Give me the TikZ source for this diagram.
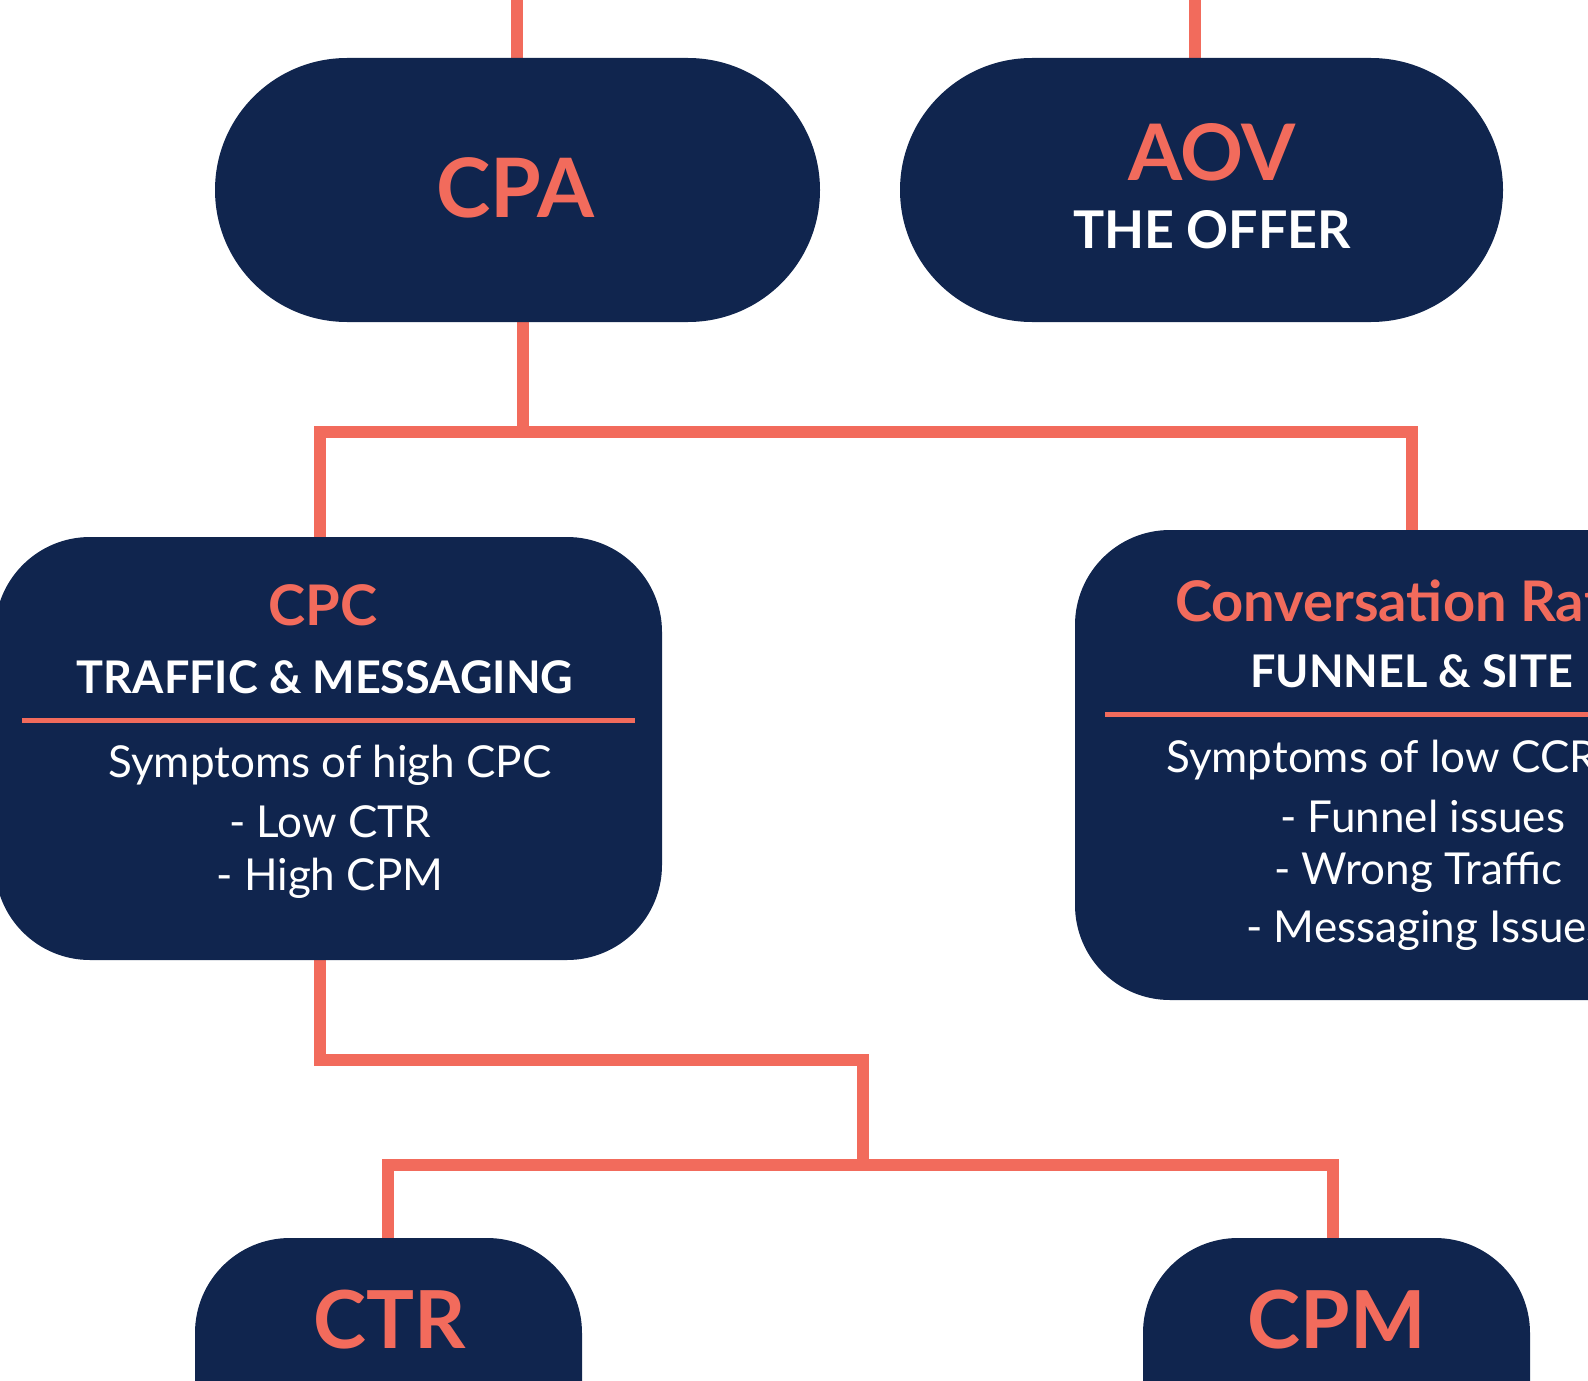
\documentclass[tikz,border=0pt]{standalone}
\usepackage{fontspec}
\setmainfont{Lato}
\definecolor{navy}{HTML}{10254E}
\definecolor{coral}{HTML}{F26B5C}
\begin{document}
\begin{tikzpicture}[x=1pt,y=-1pt,
  box/.style={fill=navy},
  link/.style={draw=coral,line width=12pt},
  ttl/.style={text=coral,font=\bfseries,inner sep=0},
  sub/.style={text=white,font=\bfseries,inner sep=0},
  body/.style={text=white,inner sep=0}]
\useasboundingbox (0,0) rectangle (1588,1381);
\clip (0,0) rectangle (1588,1381);
% links
\draw[link] (517,-10) -- (517,70);
\draw[link] (1195,-10) -- (1195,70);
\draw[link] (523,310) -- (523,432);
\draw[link,line cap=butt] (320,545) -- (320,432) -- (1412,432) -- (1412,540);
\draw[link] (320,950) -- (320,1060) -- (863,1060) -- (863,1165);
\draw[link] (388,1250) -- (388,1165) -- (1333,1165) -- (1333,1250);
% boxes
\fill[box,rounded corners=132pt] (215,58) rectangle (820,322);
\node[ttl,font=\bfseries\fontsize{82}{90}\selectfont] (cpa) at (515,188) {CPA};
\fill[box,rounded corners=132pt] (900,58) rectangle (1503,322);
\node[ttl,font=\bfseries\fontsize{78}{86}\selectfont] (aov) at (1212,152) {AOV};
\node[sub,font=\bfseries\fontsize{52}{58}\selectfont] (offer) at (1212,230) {THE OFFER};
\fill[box,rounded corners=95pt] (-5,537) rectangle (662,960);
\node[ttl,font=\bfseries\fontsize{56}{62}\selectfont] (cpc) at (323,605) {CPC};
\node[sub,font=\bfseries\fontsize{45}{50}\selectfont] (cpcs) at (325,677) {TRAFFIC \& MESSAGING};
\draw[coral,line width=5pt] (22,720) -- (635,720);
\node[body,font=\fontsize{44}{50}\selectfont] (c1) at (330,765) {Symptoms of high CPC};
\node[body,font=\fontsize{44}{50}\selectfont] (c2) at (330,822) {- Low CTR};
\node[body,font=\fontsize{44}{50}\selectfont] (c3) at (330,878) {- High CPM};
\fill[box,rounded corners=95pt] (1075,530) rectangle (1800,1000);
\node[ttl,anchor=west,font=\bfseries\fontsize{56}{62}\selectfont] (cr) at (1175,601) {Conversation Rate};
\node[sub,anchor=west,font=\bfseries\fontsize{45}{50}\selectfont] (crs) at (1250,671) {FUNNEL \& SITE};
\draw[coral,line width=5pt] (1105,714) -- (1700,714);
\node[body,anchor=west,font=\fontsize{44}{50}\selectfont] (r1) at (1166,760) {Symptoms of low CCR};
\node[body,anchor=west,font=\fontsize{44}{50}\selectfont] (r2) at (1280,816) {- Funnel issues};
\node[body,anchor=west,font=\fontsize{44}{50}\selectfont] (r3) at (1274,872) {- Wrong Traffic};
\node[body,anchor=west,font=\fontsize{44}{50}\selectfont] (r4) at (1246,930) {- Messaging Issues};
\fill[box,rounded corners=95pt] (195,1238) rectangle (582,1600);
\node[ttl,font=\bfseries\fontsize{80}{88}\selectfont] (ctr) at (390,1320) {CTR};
\fill[box,rounded corners=95pt] (1143,1238) rectangle (1530,1600);
\node[ttl,font=\bfseries\fontsize{80}{88}\selectfont] (cpm) at (1337,1320) {CPM};
\end{tikzpicture}
\end{document}
